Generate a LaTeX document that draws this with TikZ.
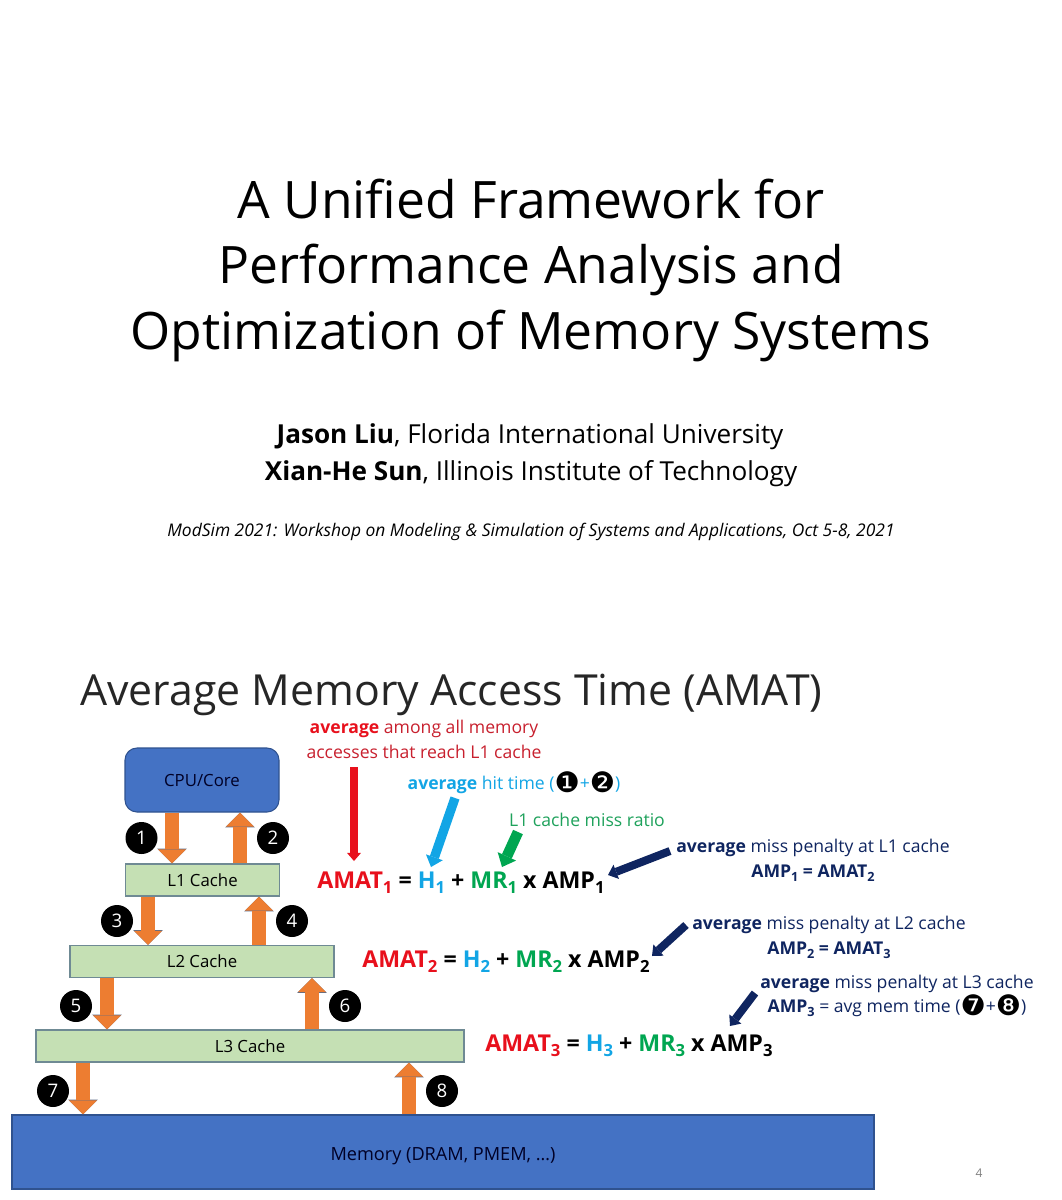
\documentclass[tikz,border=0pt]{standalone}
\usepackage{fontspec}
\usetikzlibrary{arrows.meta,calc}
\setmainfont{Open Sans}
\newfontfamily\djfont{DejaVu Sans}
\definecolor{cblue}{HTML}{4472C4}
\definecolor{cgreen}{HTML}{C5E0B4}
\definecolor{corange}{HTML}{ED7D31}
\definecolor{edgeb}{HTML}{2F528F}
\definecolor{edgeg}{HTML}{6F8A94}
\definecolor{tred}{HTML}{E8101C}
\definecolor{tred2}{HTML}{C8202E}
\definecolor{tcyan}{HTML}{12A5E5}
\definecolor{tgreen}{HTML}{00A651}
\definecolor{tgreen2}{HTML}{1FA25C}
\definecolor{tnavy}{HTML}{0F2560}
\newcommand{\sbs}[1]{\raisebox{-.42ex}{\scalebox{.72}{#1}}}
\newcommand{\cn}[1]{\raisebox{-.32ex}{\scalebox{1.6}{\djfont\textcolor{black}{#1}}}}
\tikzset{
  x=.75pt,y=-.75pt,
  txt/.style={inner sep=0pt,anchor=base},
  txtw/.style={inner sep=0pt,anchor=base west},
  title/.style={txt,font=\fontsize{38.7pt}{46pt}\selectfont,text=black},
  author/.style={txt,font=\fontsize{19.6pt}{24pt}\selectfont,text=black},
  note/.style={txt,font=\fontsize{13.2pt}{16pt}\selectfont},
  eqn/.style={txtw,font=\fontsize{17.4pt}{22pt}\bfseries\selectfont},
  boxlabel/.style={font=\fontsize{12.6pt}{15pt}\selectfont,text=black},
  bluebox/.style={draw=edgeb,line width=.8pt,fill=cblue,inner sep=0pt,boxlabel,text=black!85!blue},
  greenbox/.style={draw=edgeg,line width=.8pt,fill=cgreen,inner sep=0pt,boxlabel},
  num/.style={circle,fill=black,text=white,minimum size=24pt,inner sep=0pt,font=\fontsize{14pt}{16pt}\selectfont},
  blockarrow/.style={line width=10.5pt,color=corange,
    -{Triangle[width=21pt,length=10.5pt,line width=0pt,sep=0pt]},
    preaction={draw,color=edgeb!45!gray,line width=11.2pt,
      -{Triangle[width=22.4pt,length=11.2pt,line width=0pt,sep=0pt]}}},
  callout/.style={line width=#1,
    -{Triangle[width=1.9*#1,length=1.1*#1,line width=0pt,sep=0pt]}},
}
\begin{document}
\begin{tikzpicture}
\useasboundingbox (0,0) rectangle (1062,1200);
\fill[white] (0,0) rectangle (1062,1200);
% first slide
\node[title] (t1) at (531,218) {A Unified Framework for};
\node[title] (t2) at (531,283) {Performance Analysis and};
\node[title] (t3) at (531,349) {Optimization of Memory Systems};
\node[author] (a1) at (530,443) {\textbf{Jason Liu}, Florida International University};
\node[author] (a2) at (531,480) {\textbf{Xian-He Sun}, Illinois Institute of Technology};
\node[txt,font=\fontsize{13.07pt}{15pt}\itshape\selectfont] (w) at (531,536) {ModSim 2021: Workshop on Modeling \& Simulation of Systems and Applications, Oct 5-8, 2021};
% second slide
\node[txtw,font=\fontsize{32.1pt}{40pt}\selectfont,text=black!85] (st) at (80,705) {Average Memory Access Time (AMAT)};
% boxes
\node[bluebox,rounded corners=9pt,minimum width=115.5pt,minimum height=48pt] (cpu) at (202,780) {CPU/Core};
\node[greenbox,minimum width=115.5pt,minimum height=24pt] (l1) at (202.5,880) {L1 Cache};
\node[greenbox,minimum width=198pt,minimum height=24pt] (l2) at (202,961.5) {L2 Cache};
\node[greenbox,minimum width=321pt,minimum height=24pt] (l3) at (250,1046) {L3 Cache};
\node[bluebox,minimum width=646.5pt,minimum height=55.5pt] (mem) at (443,1152) {\raisebox{-2pt}[8pt][0pt]{\fontsize{13.6pt}{16pt}\selectfont Memory (DRAM, PMEM, …)}};
% block arrows
\coordinate (x1) at (172,0); \coordinate (x2) at (240,0);
\coordinate (x3) at (148,0); \coordinate (x4) at (259,0);
\coordinate (x5) at (107,0); \coordinate (x6) at (312,0);
\coordinate (x7) at (83,0);  \coordinate (x8) at (409,0);
\draw[blockarrow] (x1 |- cpu.south) -- (x1 |- l1.north);
\draw[blockarrow] (x2 |- l1.north) -- (x2 |- cpu.south);
\draw[blockarrow] (x3 |- l1.south) -- (x3 |- l2.north);
\draw[blockarrow] (x4 |- l2.north) -- (x4 |- l1.south);
\draw[blockarrow] (x5 |- l2.south) -- (x5 |- l3.north);
\draw[blockarrow] (x6 |- l3.north) -- (x6 |- l2.south);
\draw[blockarrow] (x7 |- l3.south) -- (x7 |- mem.north);
\draw[blockarrow] (x8 |- mem.north) -- (x8 |- l3.south);
% numbers
\node[num] (n1) at (141.5,838) {1};
\node[num] (n2) at (273,838) {2};
\node[num] (n3) at (117,921) {3};
\node[num] (n4) at (292,921) {4};
\node[num] (n5) at (76,1006) {5};
\node[num] (n6) at (345,1006) {6};
\node[num] (n7) at (53,1091) {7};
\node[num] (n8) at (442,1091) {8};
% equations
\node[eqn] (e1) at (317,888) {\textcolor{tred}{AMAT\sbs{1}} = \textcolor{tcyan}{H\sbs{1}} + \textcolor{tgreen}{MR\sbs{1}} x AMP\sbs{1}};
\node[eqn] (e2) at (362,967) {\textcolor{tred}{AMAT\sbs{2}} = \textcolor{tcyan}{H\sbs{2}} + \textcolor{tgreen}{MR\sbs{2}} x AMP\sbs{2}};
\node[eqn] (e3) at (485,1051) {\textcolor{tred}{AMAT\sbs{3}} = \textcolor{tcyan}{H\sbs{3}} + \textcolor{tgreen}{MR\sbs{3}} x AMP\sbs{3}};
% notes
\node[note,text=tred2] (r1) at (424,733) {\textcolor{tred}{\textbf{average}} among all memory};
\node[note,text=tred2] (r2) at (424,758) {accesses that reach L1 cache};
\node[note,text=tcyan] (hn) at (514,789) {\textbf{average} hit time (\cn{❶}+\cn{❷})};
\node[note,text=tgreen2] (gn) at (587,826) {L1 cache miss ratio};
\node[note,text=tnavy] (p1) at (813,852) {\textbf{average} miss penalty at L1 cache};
\node[note,text=tnavy] (p1b) at (813,877) {\textbf{AMP\sbs{1} = AMAT\sbs{2}}};
\node[note,text=tnavy] (p2) at (829,929) {\textbf{average} miss penalty at L2 cache};
\node[note,text=tnavy] (p2b) at (829,954) {\textbf{AMP\sbs{2} = AMAT\sbs{3}}};
\node[note,text=tnavy] (p3) at (897,988) {\textbf{average} miss penalty at L3 cache};
\node[note,text=tnavy] (p3b) at (897,1012) {\textbf{AMP\sbs{3}} = avg mem time (\cn{❼}+\cn{❽})};
% callout arrows
\coordinate (cr1) at (354,767); \coordinate (cr2) at (354,861);
\coordinate (cb1) at (455,798); \coordinate (cb2) at (431,867);
\coordinate (cg1) at (518,832); \coordinate (cg2) at (502,867);
\coordinate (cn1a) at (670,851); \coordinate (cn1b) at (608,875);
\coordinate (cn2a) at (686,925); \coordinate (cn2b) at (652,956);
\coordinate (cn3a) at (755,993); \coordinate (cn3b) at (730,1026);
\draw[callout=5.5pt,color=tred] (cr1) -- (cr2);
\draw[callout=7pt,color=tcyan] (cb1) -- (cb2);
\draw[callout=8pt,color=tgreen] (cg1) -- (cg2);
\draw[callout=6pt,color=tnavy] (cn1a) -- (cn1b);
\draw[callout=6pt,color=tnavy] (cn2a) -- (cn2b);
\draw[callout=6pt,color=tnavy] (cn3a) -- (cn3b);
% page number
\node[txt,font=\fontsize{9pt}{11pt}\selectfont,text=black!50] (pg) at (979,1177) {4};
\end{tikzpicture}
\end{document}
